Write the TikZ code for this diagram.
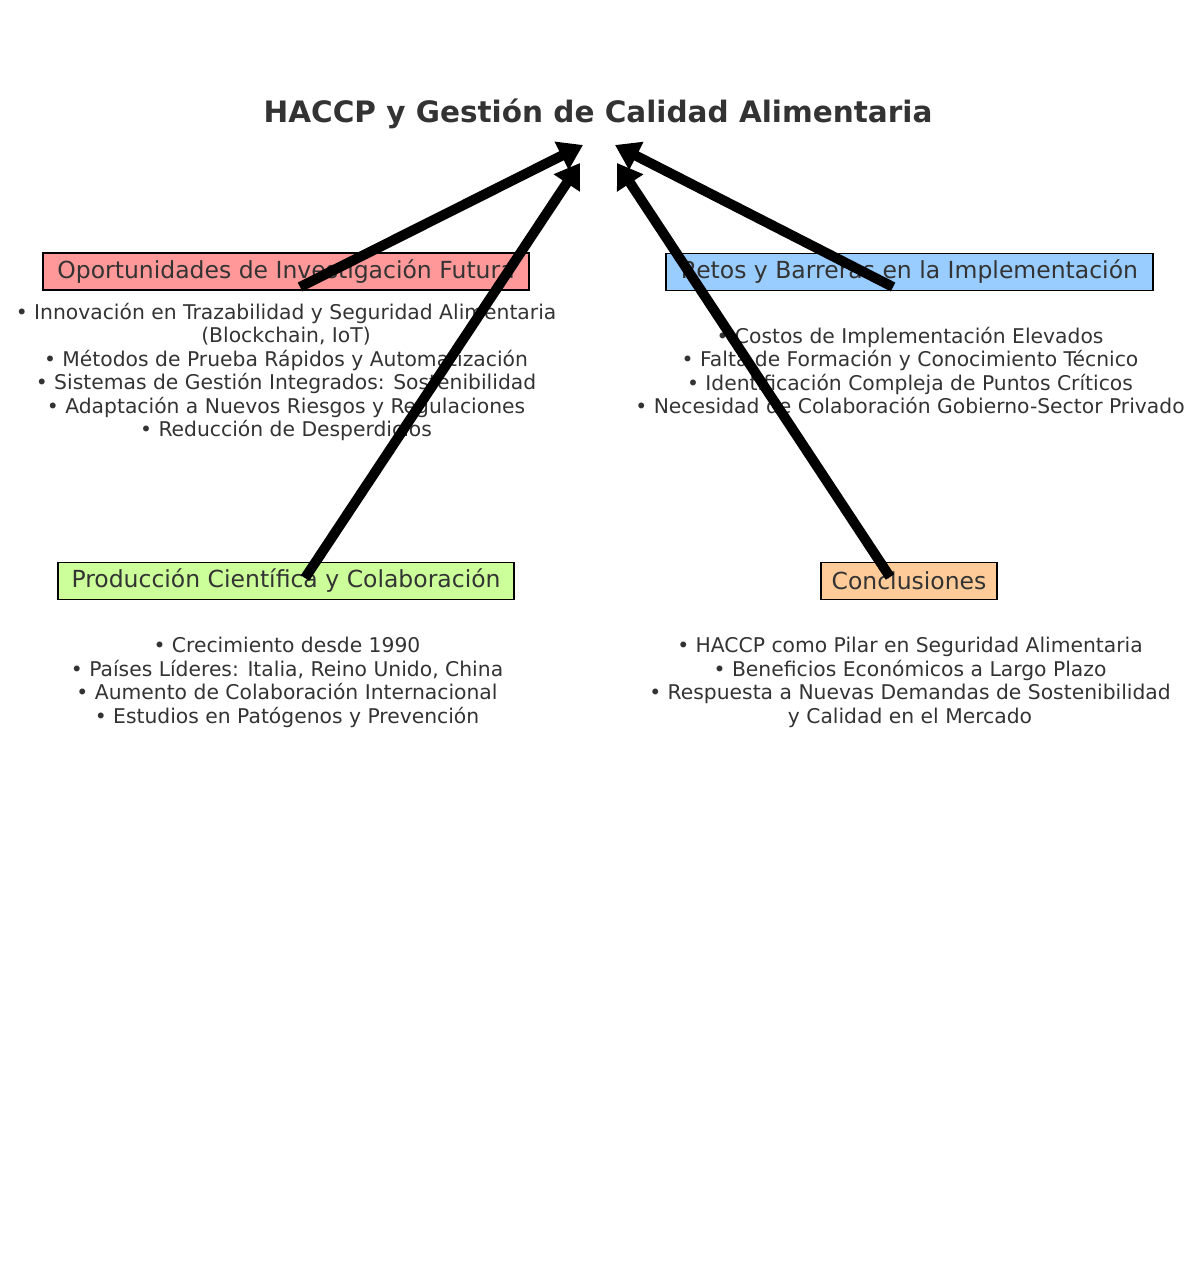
\documentclass[tikz,border=0pt]{standalone}
\usepackage{fontspec}
\setmainfont{DejaVu Sans}
\usetikzlibrary{arrows.meta}
\definecolor{hblue}{HTML}{99CCFF}
\definecolor{hred}{HTML}{FF9999}
\definecolor{hgreen}{HTML}{CCFF99}
\definecolor{horange}{HTML}{FFCC99}
\begin{document}
\begin{tikzpicture}[x=1pt,y=-1pt,
  hdr/.style={draw=black,line width=1.5pt,font=\fontsize{23.5}{27}\selectfont,text=black!80,inner sep=0pt,minimum height=37pt},
  lst/.style={align=center,font=\fontsize{20.3}{23.5}\selectfont,text=black!80,inner sep=0pt},
  arr/.style={line width=10pt,-{Triangle[length=24pt,width=30pt]}}]
\useasboundingbox (0,0) rectangle (1200,1266);
\node[font=\bfseries\fontsize{29.5}{33}\selectfont,text=black!80] (title) at (598,114) {HACCP y Gestión de Calidad Alimentaria};
\coordinate (tl1) at (583,145); \coordinate (tl2) at (580,163);
\coordinate (tr1) at (615,145); \coordinate (tr2) at (617,163);
\node[hdr,fill=hred,minimum width=486pt] (opp) at (286,271.5) {Oportunidades de Investigación Futura};
\node[hdr,fill=hblue,minimum width=487pt] (ret) at (909.5,272) {Retos y Barreras en la Implementación};
\node[hdr,fill=hgreen,minimum width=456pt] (prod) at (286,581) {Producción Científica y Colaboración};
\node[hdr,fill=horange,minimum width=176pt] (conc) at (909,581) {Conclusiones};
\node[lst,anchor=north] (l1) at (286,303) {• Innovación en Trazabilidad y Seguridad Alimentaria\\(Blockchain, IoT)\\• Métodos de Prueba Rápidos y Automatización\\• Sistemas de Gestión Integrados: Sostenibilidad\\• Adaptación a Nuevos Riesgos y Regulaciones\\• Reducción de Desperdicios};
\node[lst,anchor=north] (l2) at (910,327) {• Costos de Implementación Elevados\\• Falta de Formación y Conocimiento Técnico\\• Identificación Compleja de Puntos Críticos\\• Necesidad de Colaboración Gobierno-Sector Privado};
\node[lst,anchor=north] (l3) at (287,637) {• Crecimiento desde 1990\\• Países Líderes: Italia, Reino Unido, China\\• Aumento de Colaboración Internacional\\• Estudios en Patógenos y Prevención};
\node[lst,anchor=north] (l4) at (910,637) {• HACCP como Pilar en Seguridad Alimentaria\\• Beneficios Económicos a Largo Plazo\\• Respuesta a Nuevas Demandas de Sostenibilidad\\y Calidad en el Mercado};
\coordinate (s1) at (300,287); \coordinate (s2) at (305,578);
\coordinate (s3) at (893,287); \coordinate (s4) at (890,577);
\draw[arr] (s1) -- (tl1);
\draw[arr] (s2) -- (tl2);
\draw[arr] (s3) -- (tr1);
\draw[arr] (s4) -- (tr2);
\end{tikzpicture}
\end{document}
